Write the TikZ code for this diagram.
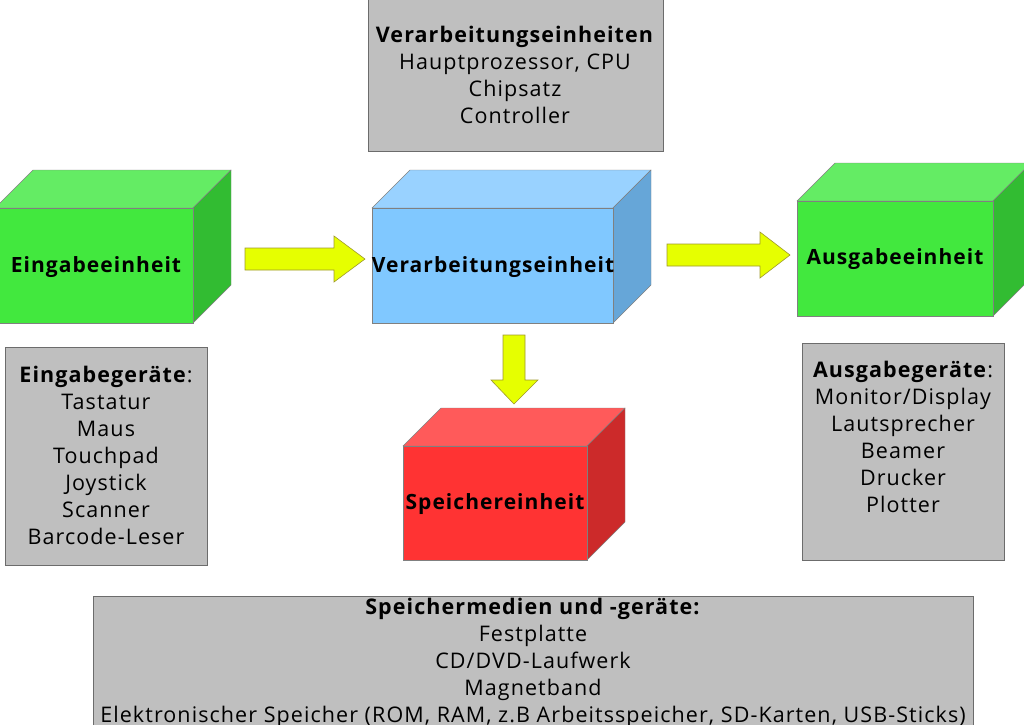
\documentclass[tikz,border=0pt]{standalone}
\usepackage{fontspec}
\setmainfont{Open Sans}[LetterSpace=5]
\begin{document}
\begin{tikzpicture}[x=1pt,y=-1pt,
 gbox/.style={draw=gray!85!black,fill=gray!50,line width=0.8pt},
 txt/.style={font=\fontsize{21.5}{27}\selectfont,align=center,inner sep=0},
 lbl/.style={font=\fontsize{21}{27}\selectfont\bfseries,inner sep=0},
 arr/.style={draw=black!40!yellow!70!olive,fill={rgb,255:red,230;green,255;blue,0},line width=0.6pt}]
\useasboundingbox (0,0) rectangle (1024,724);
\clip (0,0) rectangle (1024,724);
\definecolor{gf}{RGB}{66,232,62}\definecolor{gt}{RGB}{100,236,100}\definecolor{gs}{RGB}{50,188,50}
\definecolor{bf}{RGB}{128,200,255}\definecolor{bt}{RGB}{153,210,255}\definecolor{bs}{RGB}{102,166,216}
\definecolor{rf}{RGB}{255,51,51}\definecolor{rt}{RGB}{255,90,90}\definecolor{rs}{RGB}{204,42,42}
\newcommand{\cube}[7]{% x1 y1 x2 y2 front top side
 \fill[#6,draw=gray] (#1,#2)--(#1+38,#2-38)--(#3+38,#2-38)--(#3,#2)--cycle;
 \fill[#7,draw=gray] (#3,#2)--(#3+38,#2-38)--(#3+38,#4-38)--(#3,#4)--cycle;
 \fill[#5,draw=gray] (#1,#2) rectangle (#3,#4);}
% top box
\draw[gbox] (368,-2) rectangle (663,151);
\node[txt] (vt) at (515,75) {\textbf{Verarbeitungseinheiten}\\Hauptprozessor, CPU\\Chipsatz\\Controller};
% cubes
\cube{-5}{208}{193}{323}{gf}{gt}{gs}
\node[lbl] (ein) at (96,267) {Eingabeeinheit};
\cube{372}{208}{613}{323}{bf}{bt}{bs}
\node[lbl] (ver) at (493,267) {Verarbeitungseinheit};
\cube{797}{201}{993}{316}{gf}{gt}{gs}
\node[lbl] (aus) at (895,259) {Ausgabeeinheit};
\cube{403}{446}{587}{560}{rf}{rt}{rs}
\node[lbl] (spe) at (495,504) {Speichereinheit};
% arrows
\draw[arr] (245,248)--(334,248)--(334,236)--(365,259)--(334,282)--(334,270)--(245,270)--cycle;
\draw[arr] (667,244)--(760,244)--(760,232)--(790,255)--(760,278)--(760,266)--(667,266)--cycle;
\draw[arr] (503,335)--(525,335)--(525,380)--(538,380)--(514,404)--(491,380)--(503,380)--cycle;
% lists
\draw[gbox] (5,347) rectangle (207,565);
\node[txt,anchor=north] (el) at (106,366) {\textbf{Eingabegeräte}:\\Tastatur\\Maus\\Touchpad\\Joystick\\Scanner\\Barcode-Leser};
\draw[gbox] (802,343) rectangle (1004,560);
\node[txt,anchor=north] (al) at (903,361) {\textbf{Ausgabegeräte}:\\Monitor/Display\\Lautsprecher\\Beamer\\Drucker\\Plotter};
\draw[gbox] (93,596) rectangle (973,730);
\node[txt,anchor=north] (sl) at (533,598) {\textbf{Speichermedien und -geräte:}\\Festplatte\\CD/DVD-Laufwerk\\Magnetband\\Elektronischer Speicher (ROM, RAM, z.B Arbeitsspeicher, SD-Karten, USB-Sticks)};
\end{tikzpicture}
\end{document}
